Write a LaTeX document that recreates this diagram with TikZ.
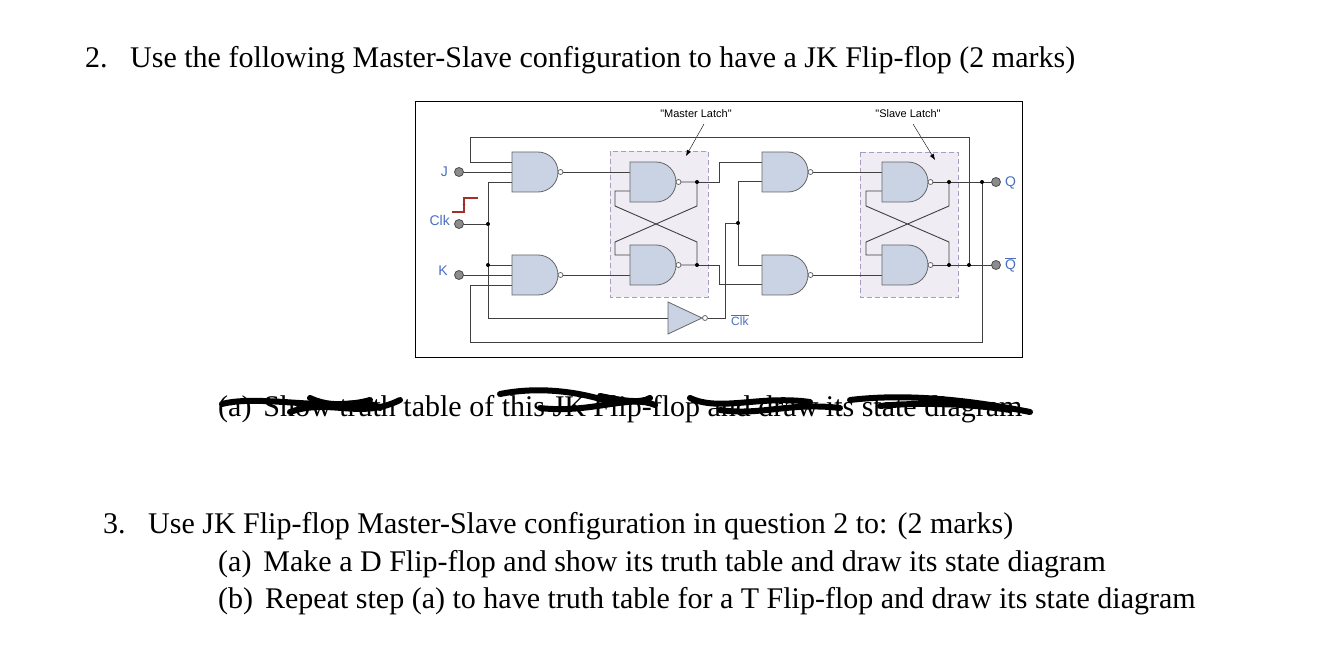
\documentclass[tikz,border=0pt]{standalone}
\usepackage{fontspec}
\usetikzlibrary{arrows.meta}
\setmainfont{Liberation Serif}
\newfontfamily\cfont{Liberation Sans}
\begin{document}
\begin{tikzpicture}[x=1pt,y=-1pt,
  wire/.style={draw=black!75,line width=0.9pt},
  gate/.style={draw=black!60,fill=gatefill,line width=0.8pt},
  jdot/.style={fill=black,circle,inner sep=0pt,minimum size=4pt},
  term/.style={draw=black!70,fill=black!45,circle,inner sep=0pt,minimum size=9pt,line width=0.8pt},
  latch/.style={draw=latchline,fill=latchfill,dashed,dash pattern=on 5pt off 3pt,line width=0.8pt},
  clab/.style={font=\cfont\fontsize{14}{16}\selectfont,text=labblue,inner sep=0pt},
  slab/.style={font=\cfont\fontsize{11}{13}\selectfont,inner sep=0pt},
  qtext/.style={font=\fontsize{30}{34}\selectfont,anchor=base west,inner sep=0pt}]
\definecolor{gatefill}{HTML}{C9D3E3}
\definecolor{latchfill}{HTML}{EFECF4}
\definecolor{latchline}{HTML}{A99CC4}
\definecolor{labblue}{HTML}{4A6FC0}
\definecolor{edgered}{HTML}{A0302A}
\useasboundingbox (0,0) rectangle (1342,671);
\fill[white] (0,0) rectangle (1342,671);
\newcommand\nandg[3]{%
  \draw[gate] (#2,#3-20) -- (#2+26,#3-20) arc(-90:90:20) -- (#2,#3+20) -- cycle;
  \draw[gate,fill=white] (#2+48.5,#3) circle (2.5);
  \coordinate (#1) at (#2+51,#3);}
% title
\node[qtext] (t2) at (85,68) {2.\hspace{0.75em}Use the following Master-Slave configuration to have a JK Flip-flop (2 marks)};
% frame
\draw[line width=0.9pt] (415,101) rectangle (1022,357);
% latch boxes
\draw[latch] (610,151) rectangle (708,297);
\draw[latch] (860,152) rectangle (958,297);
\node[slab] (ml) at (696,114) {"Master Latch"};
\node[slab] (sl) at (908,114) {"Slave Latch"};
\draw[-{Latex[length=6pt]},thin] (704,124) -- (686,156);
\draw[-{Latex[length=6pt]},thin] (913,124) -- (935,160);
% wires
\draw[wire] (463,172) -- (512,172);
\draw[wire] (463,275) -- (512,275);
\draw[wire] (463,224) -- (488,224);
\draw[wire] (512,182) -- (488,182) -- (488,318) -- (668,318);
\draw[wire] (488,265) -- (512,265);
\draw[wire] (512,162) -- (470,162) -- (470,137) -- (969,137) -- (969,265);
\draw[wire] (512,285) -- (470,285) -- (470,342) -- (982,342) -- (982,182);
\draw[wire] (560,172) -- (630,172);
\draw[wire] (560,275) -- (630,275);
% master cross
\draw[wire] (680,182) -- (697,182) -- (697,206) -- (615,242) -- (615,255) -- (630,255);
\draw[wire] (680,265) -- (697,265) -- (697,242) -- (615,206) -- (615,191) -- (630,191);
\draw[wire] (697,182) -- (719,182) -- (719,162) -- (762,162);
\draw[wire] (697,265) -- (719,265) -- (719,284) -- (762,284);
% clk bar
\draw[wire] (708,318) -- (725,318) -- (725,223) -- (738,223);
\draw[wire] (762,181) -- (738,181) -- (738,265) -- (762,265);
\draw[wire] (810,172) -- (882,172);
\draw[wire] (810,275) -- (882,275);
% slave cross
\draw[wire] (932,182) -- (992,182);
\draw[wire] (932,265) -- (992,265);
\draw[wire] (949,182) -- (949,206) -- (866,242) -- (866,255) -- (882,255);
\draw[wire] (949,265) -- (949,242) -- (866,206) -- (866,191) -- (882,191);
% gates
\nandg{g1}{512}{172}
\nandg{g2}{512}{275}
\nandg{m1}{630}{182}
\nandg{m2}{630}{265}
\nandg{s1}{762}{172}
\nandg{s2}{762}{275}
\nandg{l1}{882}{182}
\nandg{l2}{882}{265}
\draw[gate] (668,302) -- (702,318) -- (668,334) -- cycle;
\draw[gate,fill=white] (705,318) circle (2.5);
% dots
\foreach \p in {(488,224),(488,265),(697,182),(697,265),(738,223),(949,182),(949,265),(969,265),(982,182)}
  \node[jdot] at \p {};
% terminals
\node[term] (J) at (459,172) {};
\node[term] (C) at (459,224) {};
\node[term] (K) at (459,275) {};
\node[term] (Q) at (996,182) {};
\node[term] (QB) at (996,265) {};
\node[clab,anchor=east] at (448,172) {J};
\node[clab,anchor=east] at (450,220) {Clk};
\node[clab,anchor=east] at (448,271) {K};
\node[clab,anchor=west] at (1005,183) {Q};
\node[clab,anchor=west] at (1005,265) {$\overline{\mbox{Q}}$};
\node[clab,anchor=west,font=\cfont\fontsize{12}{14}\selectfont] at (731,320) {$\overline{\mbox{Clk}}$};
\draw[edgered,line width=1.2pt] (452,212) -- (464,212) -- (464,198) -- (478,198);
\draw[edgered,line width=1pt,-{Latex[length=4pt]}] (464,208) -- (464,201);
% struck line
\node[qtext] (ta) at (218,416) {(a)\hspace{0.4em}Show truth table of this JK Flip-flop and draw its state diagram};
\begin{scope}[line width=6pt,line cap=round]
\draw (222,404) .. controls (260,394) and (330,412) .. (370,400);
\draw (290,412) .. controls (330,398) and (360,420) .. (400,400);
\draw (310,398) .. controls (340,412) and (360,396) .. (380,408);
\draw (500,394) .. controls (540,386) and (580,392) .. (610,402);
\draw (540,408) .. controls (590,414) and (630,394) .. (655,405);
\draw (600,396) .. controls (620,400) and (640,404) .. (650,398);
\draw (690,398) .. controls (720,412) and (760,395) .. (810,402);
\draw (720,410) .. controls (760,416) and (790,402) .. (840,408);
\draw (850,400) .. controls (900,394) and (960,398) .. (1030,412);
\draw (880,406) .. controls (920,402) and (970,404) .. (1010,410);
\end{scope}
% question 3
\node[qtext] (t3) at (103,533) {3.\hspace{0.75em}Use JK Flip-flop Master-Slave configuration in question 2 to: (2 marks)};
\node[qtext] (t3a) at (218,571) {(a)\hspace{0.4em}Make a D Flip-flop and show its truth table and draw its state diagram};
\node[qtext] (t3b) at (218,608) {(b)\hspace{0.4em}Repeat step (a) to have truth table for a T Flip-flop and draw its state diagram};
\end{tikzpicture}
\end{document}
